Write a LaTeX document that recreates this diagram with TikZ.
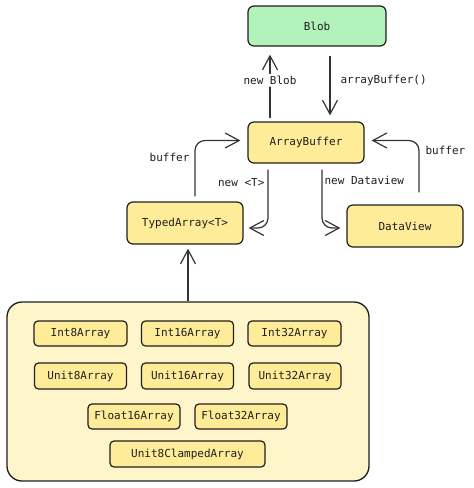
\documentclass[tikz,border=0pt]{standalone}
\usepackage{fontspec}
\setmonofont{DejaVu Sans Mono}
\usetikzlibrary{arrows.meta}
\definecolor{inkc}{HTML}{1E1E1E}
\definecolor{arrc}{HTML}{343434}
\definecolor{boxy}{HTML}{FFEC99}
\definecolor{grpy}{HTML}{FFF5CA}
\definecolor{blobg}{HTML}{B2F2BB}
\begin{document}
\begin{tikzpicture}[x=1pt, y=-1pt,
    font=\ttfamily\fontsize{11}{13}\selectfont, text=inkc,
    box/.style={draw=inkc, line width=1.2pt, fill=boxy, rounded corners=6pt,
      minimum width=116pt, minimum height=41pt, inner sep=0pt},
    tybox/.style={box, minimum width=92pt, minimum height=25pt, rounded corners=4pt},
    arr/.style={draw=arrc, line width=1.2pt, rounded corners=10pt,
      -{Straight Barb[length=14pt, width=15pt, line width=1.2pt]}},
    lbl/.style={inner sep=2pt}
  ]
  \useasboundingbox (0,0) rectangle (474,488);

  \node[box, fill=blobg, minimum width=138pt, minimum height=40pt] (blob) at (317,26) {Blob};
  \node[box] (ab) at (306,142.5) {ArrayBuffer};
  \node[box, minimum height=42pt] (ta) at (185,223) {TypedArray<T>};
  \node[box, minimum height=42pt] (dv) at (405,226) {DataView};

  \node[draw=inkc, line width=1.3pt, fill=grpy, rounded corners=15pt,
    minimum width=362pt, minimum height=179pt] (grp) at (188,391.5) {};
  \node[tybox, minimum width=93pt] (i8) at (80.5,333.5) {Int8Array};
  \node[tybox] (i16) at (187.5,333.5) {Int16Array};
  \node[tybox, minimum width=93pt] (i32) at (294.5,333.5) {Int32Array};
  \node[tybox, minimum height=26pt] (u8) at (80.5,376) {Unit8Array};
  \node[tybox, minimum height=26pt] (u16) at (187.5,376) {Unit16Array};
  \node[tybox, minimum height=26pt] (u32) at (295,376) {Unit32Array};
  \node[tybox] (f16) at (134,416.5) {Float16Array};
  \node[tybox] (f32) at (241,416.5) {Float32Array};
  \node[tybox, minimum width=155pt, minimum height=26pt] (u8c) at (187.5,454) {Unit8ClampedArray};

  \draw[arr, shorten <=3pt, shorten >=8pt] ([xshift=-36pt]ab.north) --
    node[pos=0.55, fill=white, lbl] {new Blob} ([xshift=-47pt]blob.south);
  \draw[arr, shorten <=9pt, shorten >=6pt] ([xshift=13pt]blob.south) --
    node[pos=0.45, right, lbl, xshift=8pt] {arrayBuffer()} ([xshift=24pt]ab.north);
  \draw[arr, shorten <=5pt, shorten >=7pt] ([xshift=10pt]ta.north) |-
    node[pos=0.36, left, lbl, xshift=-3pt] {buffer} ([yshift=2pt]ab.west);
  \draw[arr, shorten <=6pt, shorten >=5pt] ([xshift=-38pt]ab.south) |-
    node[pos=0.15, left, lbl, xshift=-1pt] {new <T>} ([yshift=-5pt]ta.east);
  \draw[arr, shorten <=6pt, shorten >=6pt] ([xshift=16pt]ab.south) |-
    node[pos=0.13, right, lbl] {new Dataview} ([yshift=-2pt]dv.west);
  \draw[arr, shorten <=12pt, shorten >=7pt] ([xshift=14pt]dv.north) |-
    node[pos=0.42, right, lbl, xshift=4pt] {buffer} ([yshift=2pt]ab.east);
  \draw[arr, shorten >=4pt] (grp.north) -- ([xshift=3pt]ta.south);

\end{tikzpicture}
\end{document}
